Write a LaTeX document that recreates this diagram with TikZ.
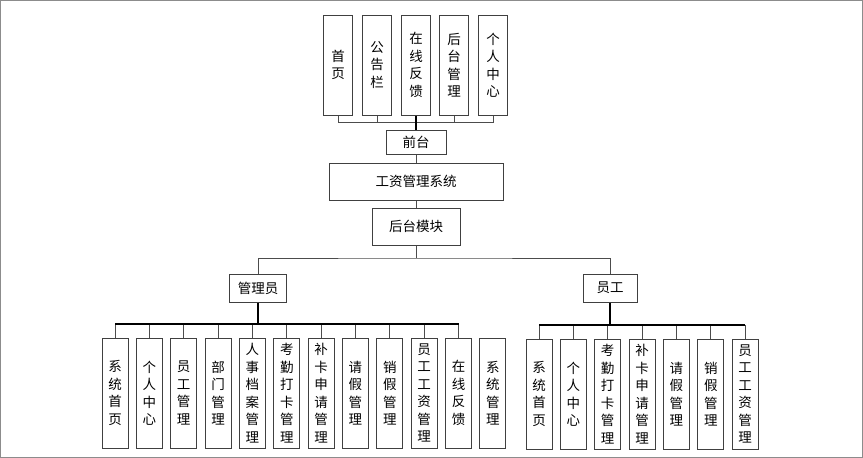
\documentclass[tikz,border=0pt]{standalone}
\usepackage{fontspec}
\setmainfont{Noto Sans CJK SC}
\begin{document}
\begin{tikzpicture}[x=1pt,y=-1pt,
  box/.style={draw=black!75,line width=1pt,fill=white,inner sep=0pt,align=center,font=\fontsize{13.5}{17.5}\selectfont},
  ln/.style={draw=black!70,line width=0.9pt},
  tk/.style={draw=black,line width=1.3pt}]
\useasboundingbox (0,0) rectangle (863,458);
\draw[black!45,line width=1pt] (0.5,0.5) rectangle (862.5,457.5);
% top row
\foreach \n/\x/\t in {a/338/首\\页, b/377/公\\告\\栏, c/416/在\\线\\反\\馈, d/454/后\\台\\管\\理, e/493/个\\人\\中\\心}
  \node[box,minimum width=29,minimum height=100] (\n) at (\x,65) {\t};
\node[box,minimum width=60,minimum height=24] (qt) at (416,142) {前台};
\node[box,minimum width=174,minimum height=37] (sys) at (416,181.5) {工资管理系统};
\node[box,minimum width=88,minimum height=37] (ht) at (416,226.5) {后台模块};
\node[box,minimum width=57,minimum height=28] (gly) at (258,288) {管理员};
\node[box,minimum width=54,minimum height=28] (yg) at (610,288) {员工};
\coordinate (tb) at (416,122);
\foreach \n in {a,b,c,d,e} \draw[ln] (\n.south) |- (tb);
\draw[ln] (a.south |- tb) -- (e.south |- tb);
\draw[tk] (c.south) -- (qt.north);
\draw[ln] (qt) -- (sys) (sys) -- (ht);
\coordinate (hb) at (416,258);
\draw[ln] (ht.south) -- (hb);
\draw[ln] (gly.north) |- (hb) -| (yg.north);
% admin row
\coordinate (ab) at (258,324);
\draw[tk] (gly.south) -- (ab);
\foreach \t [count=\i from 0] in {系\\统\\首\\页, 个\\人\\中\\心, 员\\工\\管\\理, 部\\门\\管\\理, 人\\事\\档\\案\\管\\理, 考\\勤\\打\\卡\\管\\理, 补\\卡\\申\\请\\管\\理, 请\\假\\管\\理, 销\\假\\管\\理, 员\\工\\工\\资\\管\\理, 在\\线\\反\\馈, 系\\统\\管\\理}
  \node[box,minimum width=26,minimum height=110] (m\i) at ({115+34.35*\i},393) {\t};
\foreach \i in {0,...,10} \draw[ln] (m\i.north) -- (m\i.north |- ab);
\draw[tk] (m0.north |- ab) -- (m10.north |- ab);
% staff row
\coordinate (sb) at (610,325);
\draw[tk] (yg.south) -- (sb);
\foreach \t [count=\i from 0] in {系\\统\\首\\页, 个\\人\\中\\心, 考\\勤\\打\\卡\\管\\理, 补\\卡\\申\\请\\管\\理, 请\\假\\管\\理, 销\\假\\管\\理, 员\\工\\工\\资\\管\\理}
  \node[box,minimum width=26,minimum height=110] (s\i) at ({539+34.35*\i},394) {\t};
\foreach \i in {0,...,6} \draw[ln] (s\i.north) -- (s\i.north |- sb);
\draw[tk] (s0.north |- sb) -- (s6.north |- sb);
\end{tikzpicture}
\end{document}
